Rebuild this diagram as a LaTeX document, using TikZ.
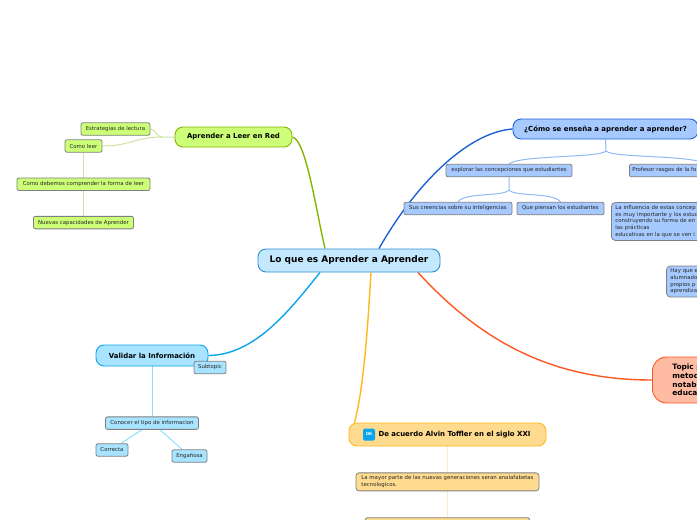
\documentclass[tikz,border=0pt]{standalone}
\usepackage{fontspec}
\setmainfont{DejaVu Sans}
\usetikzlibrary{positioning, backgrounds}
\definecolor{mainfill}{HTML}{C4E9FF}
\definecolor{maindraw}{HTML}{2C8FD3}
\definecolor{greenfill}{HTML}{CCFF77}
\definecolor{greendraw}{HTML}{84B500}
\definecolor{greenedge}{HTML}{CFE2A0}
\definecolor{bluefill}{HTML}{A6CAFF}
\definecolor{bluedraw}{HTML}{1F62D6}
\definecolor{blueedge}{HTML}{8FB8F5}
\definecolor{orangefill}{HTML}{FFDB8F}
\definecolor{orangedraw}{HTML}{FFB81C}
\definecolor{orangeedge}{HTML}{FFE9C4}
\definecolor{redfill}{HTML}{FFBBA3}
\definecolor{reddraw}{HTML}{FF5722}
\definecolor{cyanfill}{HTML}{A8E3FF}
\definecolor{cyandraw}{HTML}{0AA5EE}
\definecolor{cyanedge}{HTML}{8FDDFF}
\definecolor{subdraw}{HTML}{808080}
\begin{document}
\begin{tikzpicture}[
x=1pt,y=-1pt,
every node/.style={
    rectangle,
    align=left,
    inner sep=0pt,
    font=\fontsize{5.4}{6.7}\selectfont,
    text=black!85,
    },
topicbox/.style={
    draw=#1,
    line width=.9pt,
    rounded corners=8pt,
    font=\fontsize{6.95}{9}\selectfont\bfseries,
    text=black,
    minimum height=20pt,
    },
subbox/.style={
    draw=subdraw,
    line width=.8pt,
    rounded corners=2pt,
    minimum height=12.5pt,
    },
greentopic/.style={topicbox=greendraw, fill=greenfill},
bluetopic/.style={topicbox=bluedraw, fill=bluefill},
orangetopic/.style={topicbox=orangedraw, fill=orangefill},
cyantopic/.style={topicbox=cyandraw, fill=cyanfill},
mainline/.style={line width=1.4pt},
subline/.style={line width=1pt},
]
\useasboundingbox (0,0) rectangle (697,520);
\clip (0,0) rectangle (697,520);

\node (main) at (349,260.5) [topicbox=maindraw, fill=mainfill, minimum width=182pt, minimum height=23pt, font=\fontsize{9}{11}\selectfont\bfseries] {Lo que es Aprender a Aprender};

% aprender a leer
\node (leer) at (233.5,137) [greentopic, minimum width=117pt] {Aprender a Leer en Red};
\node (estrategias) at (115.5,129) [subbox, fill=greenfill, minimum width=69pt] {Estrategias de lectura};
\node (comoleer) at (83.5,146) [subbox, fill=greenfill, minimum width=37pt] {Como leer};
\node (comprender) [subbox, fill=greenfill, minimum width=133pt, below=25pt of comoleer] {Como debemos comprender la forma de leer};
\node (capacidades) [subbox, fill=greenfill, minimum width=100pt, below=25pt of comprender] {Nuevas capacidades de Aprender};
\coordinate (leerfork) at (162,137);

% como se ensena
\node (ensena) at (605.5,129) [bluetopic, minimum width=185pt] {¿Cómo se enseña a aprender a aprender?};
\node (explorar) at (509,170.5) [subbox, fill=bluefill, minimum width=126pt] {explorar las concepciones que estudiantes};
\node (profesor) at (629,170.5) [subbox, fill=bluefill, anchor=west, minimum width=150pt, text width=144pt, inner xsep=3pt] {Profesor rasgos de la fo};
\node (creencias) at (458,208.5) [subbox, fill=bluefill, minimum width=108pt] {Sus creencias sobre su inteligencias};
\node (piensan) at (560.5,208.5) [subbox, fill=bluefill, minimum width=87pt] {Que piensan los estudiantes};
\node (influencia) at (611,221.5) [subbox, fill=bluefill, anchor=west, rounded corners=4pt, minimum height=38pt, text width=120pt, inner xsep=4pt] {La influencia de estas concep\\es muy importante y los estud\\construyendo su forma de en\\las prácticas\\educativas en la que se ven i};
\node (hayque) at (666,281.5) [subbox, fill=bluefill, anchor=west, rounded corners=4pt, minimum height=31pt, text width=80pt, inner xsep=4pt] {Hay que e\\alumnado\\propios p\\aprendiza};
\coordinate (ensenafork) at (606,151);
\coordinate (explorarfork) at (509,190);

% topic
\node (topic) at (652,380) [topicbox=reddraw, fill=redfill, anchor=west, rounded corners=14pt, minimum height=46pt, text width=100pt, inner xsep=20pt, font=\fontsize{7.4}{8.7}\selectfont\bfseries] {Topic p\\metod\\notabl\\educat};

% toffler
\node (toffler) at (447.5,434.5) [orangetopic, minimum width=197pt, minimum height=23pt] {\hspace{14pt}De acuerdo Alvin Toffler en el siglo XXI};
\node (okicon) at (369,434.5) [fill=cyandraw, rounded corners=1.5pt, minimum width=12pt, minimum height=12pt, text=white, align=center, font=\fontsize{4}{4}\selectfont\bfseries] {OK};
\node (mayor) [subbox, fill=orangefill, rounded corners=3pt, minimum width=183pt, minimum height=18pt, below=26pt of toffler] {La mayor parte de las nuevas generaciones seran analafabetas\\tecnologicos.};
\node (siguiente) [subbox, fill=orangefill, minimum width=164pt, minimum height=18pt, below=26pt of mayor] {};

% validar
\node (validar) at (152,355.5) [cyantopic, minimum width=112pt, minimum height=21pt] {Validar la Información};
\node (subtopic) at (210,367.5) [subbox, fill=cyanfill, minimum width=32pt] {Subtopic};
\node (conocer) [subbox, fill=cyanfill, minimum width=93pt, below=50pt of validar] {Conocer el tipo de informacion};
\node (correcta) at (112,450) [subbox, fill=cyanfill, minimum width=32pt] {Correcta};
\node (enganosa) at (189.5,456) [subbox, fill=cyanfill, minimum width=35pt] {Engañosa};

\begin{scope}[on background layer]
\draw[mainline, greendraw] ([xshift=-24pt]main.north) .. controls (316,210) and (306,140) .. (leer.east);
\draw[mainline, bluedraw] ([xshift=30pt]main.north) .. controls (418,180) and (470,132) .. (ensena.west);
\draw[mainline, cyandraw] ([xshift=-29pt]main.south) .. controls (290,310) and (255,355) .. (validar.east);
\draw[mainline, orangedraw] ([xshift=22pt]main.south) .. controls (367,340) and (363,390) .. ([xshift=-93pt]toffler.north);
\draw[mainline, reddraw] ([xshift=69pt]main.south) .. controls (480,340) and (550,380) .. (topic.west);

\draw[subline, greenedge] (leer.west) -- (leerfork) .. controls (156,137) and (156,129) .. (estrategias.east);
\draw[subline, greenedge] (leerfork) .. controls (135,137) and (130,146) .. (comoleer.east);
\draw[subline, greenedge] (comoleer) -- (comprender);
\draw[subline, greenedge] (comprender) -- (capacidades);

\draw[subline, blueedge] (ensena.south) -- (ensenafork) .. controls (600,158) and (520,155) .. (explorar.north);
\draw[subline, blueedge] (ensenafork) .. controls (612,158) and (695,155) .. (profesor.north);
\draw[subline, blueedge] (explorar.south) -- (explorarfork) .. controls (503,197) and (465,192) .. (creencias.north);
\draw[subline, blueedge] (explorarfork) .. controls (515,197) and (553,192) .. (piensan.north);

\draw[subline, orangeedge] (toffler) -- (mayor);
\draw[subline, orangeedge] (mayor) -- (siguiente);

\draw[subline, cyanedge] (validar) -- (conocer);
\draw[subline, cyanedge] ([xshift=-10pt]conocer.south) -- ([xshift=9pt]correcta.north);
\draw[subline, cyanedge] ([xshift=8pt]conocer.south) -- ([xshift=-7.5pt]enganosa.north);
\end{scope}
\end{tikzpicture}
\end{document}
